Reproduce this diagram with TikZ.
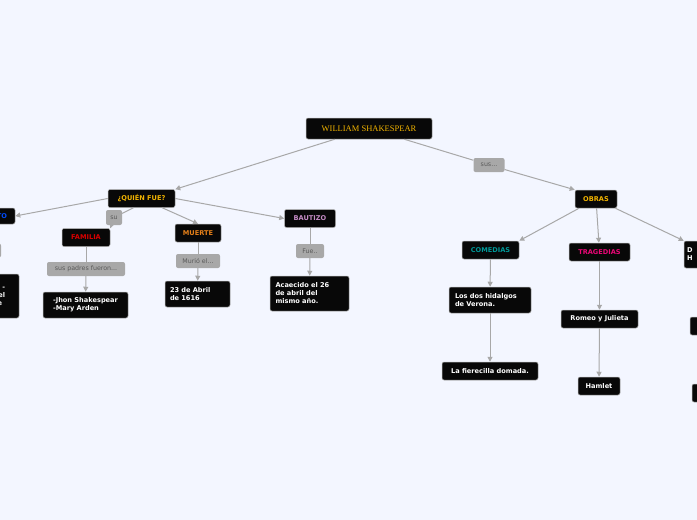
\documentclass[tikz,border=0pt]{standalone}
\usepackage{fontspec}
\setmainfont{DejaVu Sans}
\newfontfamily\serifw{Liberation Serif}
\usetikzlibrary{arrows.meta}
\definecolor{bg}{HTML}{F3F6FF}
\definecolor{edge}{HTML}{A8A8A8}
\definecolor{gold}{HTML}{F2B400}
\tikzset{
 box/.style={rounded corners=2pt,fill=black!97,draw=gray!60,line width=0.5pt,text=white,font=\bfseries\fontsize{6.6}{8}\selectfont,inner sep=0pt,minimum height=18pt},
 lbl/.style={rounded corners=2pt,fill=edge,text=black!65,font=\fontsize{6.3}{7}\selectfont,inner sep=0pt,minimum height=14pt},
 ar/.style={draw=edge,line width=1pt,-{Triangle[length=5pt,width=5pt]}},
 ln/.style={draw=edge,line width=1pt},
}
\begin{document}
\begin{tikzpicture}[x=1pt,y=-1pt]
\fill[bg] (0,0) rectangle (697,520);
\useasboundingbox (0,0) rectangle (697,520);
\clip (0,0) rectangle (697,520);
\node[box,minimum width=126,minimum height=21,font=\serifw\fontsize{8.5}{9}\selectfont,text=gold] (ws) at (369,128.5) {WILLIAM SHAKESPEAR};
\node[lbl,minimum width=31] (sus) at (489,165) {sus...};
\node[box,minimum width=67,text=gold] (q) at (141.5,198.5) {¿QUIÉN FUE?};
\node[box,minimum width=34,minimum height=16,text={blue!70!cyan}] (to) at (-2,216) {\hspace*{8pt}TO};
\node[lbl,minimum width=16,minimum height=15] (su) at (114,217.5) {su};
\node[box,minimum width=48,text={red!85!black}] (fam) at (86,237.5) {FAMILIA};
\node[box,minimum width=46,text={orange!60!brown}] (mu) at (198,233) {MUERTE};
\node[box,minimum width=51,text={violet!45!white}] (bau) at (310,218.5) {BAUTIZO};
\node[lbl,minimum width=78] (sp) at (86,269) {sus padres fueron...};
\node[lbl,minimum width=44] (me) at (198,261) {Murió el...};
\node[lbl,minimum width=28] (fue) at (310,251) {Fue..};
\node[box,minimum width=85,minimum height=26,align=left] (jh) at (85.5,305) {-Jhon Shakespear\\-Mary Arden};
\node[box,minimum width=65,minimum height=26,align=left,text width=55] (d23) at (197.5,294) {23 de Abril\\de 1616};
\node[box,minimum width=79,minimum height=35,align=left,text width=68] (ac) at (309.5,293.5) {Acaecido el 26\\de abril del\\mismo año.};
\node[lbl,minimum width=20] (lg) at (-9,250.5) {};
\node[box,minimum width=40,minimum height=44,align=right] (lb) at (-1,296) {-\\el\\de\hspace*{3pt}};
\node[box,minimum width=42,text=gold] (ob) at (596,199) {OBRAS};
\node[box,minimum width=57,text={teal!80!cyan}] (co) at (490.5,250) {COMEDIAS};
\node[box,minimum width=61,text={magenta!80!red}] (tr) at (599.5,252) {TRAGEDIAS};
\node[box,minimum width=40,minimum height=27,align=left,text width=34] (dh) at (704,254.5) {D\\H};
\node[box,minimum width=82,minimum height=26,align=left,text width=70] (ld) at (490,300) {Los dos hidalgos\\de Verona.};
\node[box,minimum width=96] (lf) at (490,371) {La fierecilla domada.};
\node[box,minimum width=77] (ro) at (599.5,319) {Romeo y Julieta};
\node[box,minimum width=42] (ha) at (599,386) {Hamlet};
\node[box,minimum width=30] (r1) at (705,326) {};
\node[box,minimum width=30] (r2) at (707,393) {};
\draw[ar] (ws) -- (q.north east);
\draw[ln] (ws) -- (sus);
\draw[ar] (sus) -- (ob.north west);
\draw[ar] (q.west) -- (to.east);
\draw[ln] (q.south) ++(-8,0) -- (su);
\draw[ar] (su) -- (fam.north east);
\draw[ar] (q) -- (mu.north);
\draw[ar] (q.east) -- (bau.west);
\draw[ln] (fam) -- (sp);
\draw[ar] (sp) -- (jh);
\draw[ln] (mu) -- (me);
\draw[ar] (me) -- (d23);
\draw[ln] (bau) -- (fue);
\draw[ar] (fue) -- (ac);
\draw[ar] (ob) -- (co.north east);
\draw[ar] (ob) -- (tr);
\draw[ar] (ob) -- (dh.north west);
\draw[ar] (co) -- (ld);
\draw[ar] (ld) -- (lf);
\draw[ar] (tr) -- (ro);
\draw[ar] (ro) -- (ha);
\end{tikzpicture}
\end{document}
